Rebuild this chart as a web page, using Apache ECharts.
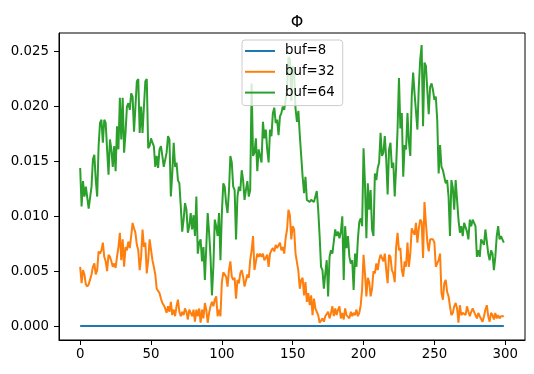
<!DOCTYPE html>
<html><head><meta charset="utf-8">
<script src="https://cdn.jsdelivr.net/npm/echarts@6/dist/echarts.min.js"></script>
<style>html,body{margin:0;padding:0;background:#fff}#c{width:534px;height:374px}</style>
</head><body><div id="c"></div>
<script>
const titleText = 'Φ';
const seriesNames = ['buf=8', 'buf=32', 'buf=64'];
const xTicks = [0, 50, 100, 150, 200, 250, 300];
const yTicks = [0, 0.005, 0.010, 0.015, 0.020, 0.025];

const buf8 = [
0,0,0,0,0,0,0,0,0,0, 0,0,0,0,0,0,0,0,0,0, 0,0,0,0,0,0,0,0,0,0, 0,0,0,0,0,0,0,0,0,0, 0,0,0,0,0,0,0,0,0,0,
0,0,0,0,0,0,0,0,0,0, 0,0,0,0,0,0,0,0,0,0, 0,0,0,0,0,0,0,0,0,0, 0,0,0,0,0,0,0,0,0,0, 0,0,0,0,0,0,0,0,0,0,
0,0,0,0,0,0,0,0,0,0, 0,0,0,0,0,0,0,0,0,0, 0,0,0,0,0,0,0,0,0,0, 0,0,0,0,0,0,0,0,0,0, 0,0,0,0,0,0,0,0,0,0,
0,0,0,0,0,0,0,0,0,0, 0,0,0,0,0,0,0,0,0,0, 0,0,0,0,0,0,0,0,0,0, 0,0,0,0,0,0,0,0,0,0, 0,0,0,0,0,0,0,0,0,0,
0,0,0,0,0,0,0,0,0,0, 0,0,0,0,0,0,0,0,0,0, 0,0,0,0,0,0,0,0,0,0, 0,0,0,0,0,0,0,0,0,0, 0,0,0,0,0,0,0,0,0,0,
0,0,0,0,0,0,0,0,0,0, 0,0,0,0,0,0,0,0,0,0, 0,0,0,0,0,0,0,0,0,0, 0,0,0,0,0,0,0,0,0,0, 0,0,0,0,0,0,0,0,0,0
];

const buf32 = [
0.0054,0.0039,0.0051,0.0047,0.0038,0.0036,0.0038,0.0039,0.0047,0.0054,
0.0057,0.0047,0.0051,0.0068,0.0066,0.0069,0.0076,0.0063,0.0059,0.0050,
0.0065,0.0063,0.0059,0.0054,0.0057,0.0053,0.0063,0.0072,0.0085,0.0060,
0.0079,0.0054,0.0072,0.0069,0.0077,0.0071,0.0082,0.0094,0.0089,0.0085,
0.0074,0.0069,0.0051,0.0063,0.0088,0.0072,0.0076,0.0048,0.0060,0.0079,
0.0080,0.0060,0.0054,0.0047,0.0034,0.0033,0.0030,0.0025,0.0021,0.0019,
0.0016,0.0012,0.0018,0.0013,0.0022,0.0010,0.0015,0.0009,0.0018,0.0024,
0.0013,0.0009,0.0013,0.0010,0.0016,0.0013,0.0006,0.0015,0.0016,0.0009,
0.0015,0.0004,0.0015,0.0009,0.0016,0.0003,0.0015,0.0007,0.0021,0.0015,
0.0003,0.0012,0.0018,0.0022,0.0018,0.0024,0.0027,0.0009,0.0015,0.0009,
0.0040,0.0049,0.0048,0.0045,0.0036,0.0051,0.0059,0.0045,0.0042,0.0044,
0.0025,0.0042,0.0039,0.0048,0.0051,0.0045,0.0036,0.0037,0.0047,0.0044,
0.0060,0.0069,0.0082,0.0051,0.0051,0.0066,0.0063,0.0066,0.0063,0.0066,
0.0060,0.0062,0.0065,0.0054,0.0066,0.0069,0.0071,0.0068,0.0074,0.0071,
0.0071,0.0076,0.0069,0.0072,0.0066,0.0080,0.0088,0.0106,0.0101,0.0079,
0.0091,0.0088,0.0066,0.0066,0.0050,0.0034,0.0042,0.0044,0.0028,0.0040,
0.0022,0.0030,0.0019,0.0028,0.0010,0.0025,0.0016,0.0016,0.0010,0.0003,
0.0003,0.0007,0.0004,0.0009,0.0009,0.0013,0.0007,0.0012,0.0018,0.0009,
0.0016,0.0010,0.0015,0.0018,0.0007,0.0012,0.0006,0.0016,0.0010,0.0010,
0.0007,0.0013,0.0009,0.0012,0.0010,0.0015,0.0009,0.0012,0.0019,0.0034,
0.0065,0.0048,0.0027,0.0044,0.0040,0.0027,0.0034,0.0050,0.0048,0.0057,
0.0051,0.0060,0.0065,0.0062,0.0059,0.0066,0.0051,0.0039,0.0065,0.0063,
0.0051,0.0048,0.0040,0.0072,0.0085,0.0069,0.0071,0.0051,0.0045,0.0059,
0.0054,0.0076,0.0054,0.0066,0.0089,0.0088,0.0083,0.0094,0.0076,0.0089,
0.0097,0.0095,0.0062,0.0113,0.0094,0.0077,0.0068,0.0079,0.0080,0.0079,
0.0076,0.0054,0.0053,0.0060,0.0066,0.0030,0.0024,0.0039,0.0042,0.0031,
0.0027,0.0018,0.0010,0.0012,0.0018,0.0021,0.0016,0.0003,0.0019,0.0010,
0.0012,0.0012,0.0010,0.0018,0.0013,0.0009,0.0013,0.0016,0.0013,0.0010,
0.0007,0.0012,0.0009,0.0010,0.0004,0.0009,0.0015,0.0019,0.0009,0.0004,
0.0012,0.0010,0.0006,0.0012,0.0007,0.0010,0.0007,0.0009,0.0009,0.0009
];

const buf64 = [
0.0144,0.0109,0.0132,0.0118,0.0127,0.0127,0.0107,0.0106,0.0127,0.0152,
0.0156,0.0133,0.0118,0.0164,0.0185,0.0188,0.0167,0.0188,0.0185,0.0161,
0.0138,0.0170,0.0161,0.0145,0.0164,0.0141,0.0182,0.0161,0.0208,0.0170,
0.0208,0.0158,0.0176,0.0200,0.0203,0.0197,0.0212,0.0209,0.0177,0.0200,
0.0223,0.0225,0.0176,0.0200,0.0176,0.0200,0.0223,0.0225,0.0162,0.0164,
0.0171,0.0167,0.0164,0.0145,0.0155,0.0144,0.0161,0.0164,0.0155,0.0145,
0.0145,0.0158,0.0173,0.0170,0.0118,0.0139,0.0167,0.0145,0.0149,0.0133,
0.0130,0.0109,0.0086,0.0097,0.0112,0.0106,0.0085,0.0091,0.0103,0.0088,
0.0101,0.0082,0.0118,0.0066,0.0076,0.0079,0.0059,0.0072,0.0042,0.0072,
0.0103,0.0085,0.0063,0.0028,0.0054,0.0097,0.0091,0.0082,0.0103,0.0060,
0.0103,0.0130,0.0127,0.0112,0.0103,0.0123,0.0155,0.0149,0.0127,0.0124,
0.0079,0.0118,0.0127,0.0123,0.0142,0.0133,0.0115,0.0124,0.0132,0.0118,
0.0124,0.0221,0.0155,0.0158,0.0171,0.0141,0.0161,0.0155,0.0149,0.0186,
0.0171,0.0179,0.0161,0.0149,0.0179,0.0173,0.0194,0.0199,0.0185,0.0188,
0.0174,0.0191,0.0194,0.0200,0.0197,0.0206,0.0215,0.0245,0.0243,0.0205,
0.0237,0.0232,0.0198,0.0186,0.0196,0.0174,0.0155,0.0136,0.0121,0.0136,
0.0115,0.0115,0.0113,0.0115,0.0115,0.0113,0.0118,0.0123,0.0106,0.0082,
0.0054,0.0051,0.0034,0.0048,0.0060,0.0027,0.0063,0.0069,0.0066,0.0066,
0.0088,0.0082,0.0086,0.0080,0.0086,0.0100,0.0042,0.0091,0.0071,0.0082,
0.0063,0.0057,0.0060,0.0033,0.0066,0.0054,0.0079,0.0095,0.0098,0.0091,
0.0162,0.0130,0.0080,0.0130,0.0106,0.0124,0.0088,0.0082,0.0139,0.0133,
0.0144,0.0149,0.0176,0.0155,0.0158,0.0173,0.0152,0.0120,0.0161,0.0167,
0.0144,0.0149,0.0118,0.0145,0.0179,0.0226,0.0180,0.0194,0.0136,0.0165,
0.0161,0.0194,0.0168,0.0155,0.0209,0.0231,0.0212,0.0212,0.0179,0.0218,
0.0243,0.0256,0.0182,0.0240,0.0237,0.0215,0.0193,0.0218,0.0221,0.0215,
0.0206,0.0209,0.0188,0.0139,0.0165,0.0145,0.0142,0.0141,0.0130,0.0133,
0.0118,0.0082,0.0133,0.0126,0.0106,0.0133,0.0115,0.0097,0.0085,0.0091,
0.0082,0.0094,0.0095,0.0086,0.0079,0.0097,0.0091,0.0097,0.0098,0.0091,
0.0063,0.0069,0.0063,0.0079,0.0080,0.0074,0.0088,0.0088,0.0066,0.0060,
0.0069,0.0066,0.0051,0.0063,0.0082,0.0091,0.0079,0.0082,0.0079,0.0076
];

const FONT = 'DejaVu Sans';
const colors = ['#1f77b4', '#ff7f0e', '#2ca02c'];
const allSeries = [buf8, buf32, buf64];
const toPairs = arr => arr.map((v, i) => [i, v]);

const chart = echarts.init(document.getElementById('c'), null, {renderer: 'canvas'});
chart.setOption({
  animation: false,
  title: {
    text: titleText, left: 292, top: 10, textAlign: 'center',
    textStyle: {fontFamily: FONT, fontSize: 16, fontWeight: 'normal', color: '#000'}
  },
  grid: {left: 59, right: 9, top: 33, bottom: 34, show: true, borderColor: '#000', borderWidth: 1, backgroundColor: 'transparent', containLabel: false},
  legend: {
    orient: 'vertical', left: 242, top: 40,
    padding: [4, 8, 6, 3], itemGap: 6.8, itemWidth: 30, itemHeight: 2,
    icon: 'rect',
    backgroundColor: 'rgba(255,255,255,0.8)', borderColor: '#cccccc', borderWidth: 1, borderRadius: 3,
    textStyle: {fontFamily: FONT, fontSize: 13.33, color: '#000', padding: [0, 0, 0, 5], lineHeight: 14},
    data: seriesNames.map((n, i) => ({name: n, icon: 'rect', itemStyle: {color: colors[i]}}))
  },
  xAxis: {
    type: 'value', min: -14.95, max: 313.95,
    axisLine: {show: true, onZero: false, lineStyle: {color: '#000', width: 1}},
    axisTick: {show: true, length: 5, customValues: xTicks, lineStyle: {color: '#000', width: 1}},
    axisLabel: {customValues: xTicks, margin: 8, fontFamily: FONT, fontSize: 13.33, color: '#000'},
    splitLine: {show: false}
  },
  yAxis: {
    type: 'value', min: -0.00127, max: 0.0267,
    axisLine: {show: true, onZero: false, lineStyle: {color: '#000', width: 1}},
    axisTick: {show: true, length: 5, customValues: yTicks, lineStyle: {color: '#000', width: 1}},
    axisLabel: {customValues: yTicks, margin: 10, fontFamily: FONT, fontSize: 13.33, color: '#000', formatter: v => v.toFixed(3)},
    splitLine: {show: false}
  },
  series: allSeries.map((d, i) => ({
    name: seriesNames[i], type: 'line', data: toPairs(d),
    symbol: 'none', showSymbol: false, clip: true,
    lineStyle: {width: 2, color: colors[i]}, itemStyle: {color: colors[i]},
    emphasis: {disabled: true}
  }))
});
</script>
</body></html>
